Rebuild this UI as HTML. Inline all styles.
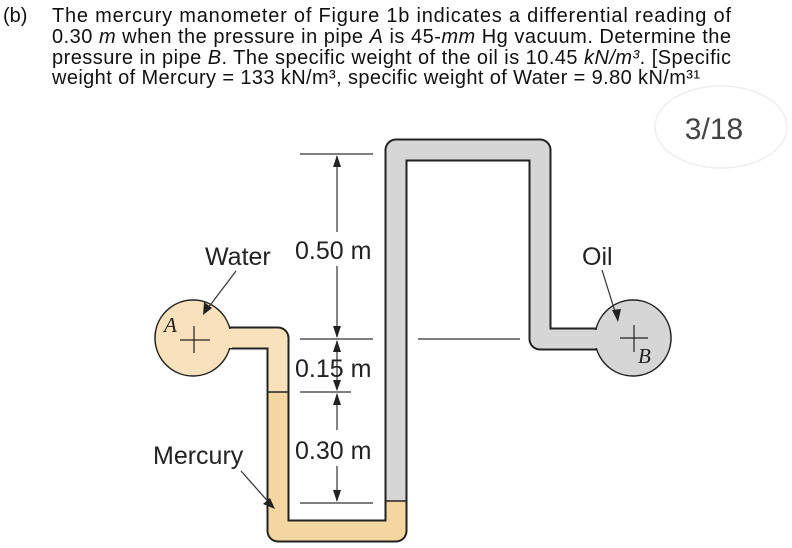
<!DOCTYPE html>
<html><head><meta charset="utf-8"><style>
html,body{margin:0;padding:0;background:#fff;}
svg{display:block;}
text{font-family:"Liberation Sans",Arial,sans-serif;}
</style></head><body>
<svg width="792" height="548" viewBox="0 0 792 548" xmlns="http://www.w3.org/2000/svg">
<g font-size="20" fill="#111">
<text x="3" y="22">(b)</text>
<text x="52" y="22" textLength="679" lengthAdjust="spacing">The mercury manometer of Figure 1b indicates a differential reading of</text>
<text x="52" y="43" textLength="679" lengthAdjust="spacing">0.30 <tspan font-style="italic">m</tspan> when the pressure in pipe <tspan font-style="italic">A</tspan> is 45-<tspan font-style="italic">mm</tspan> Hg vacuum. Determine the</text>
<text x="52" y="64" textLength="679" lengthAdjust="spacing">pressure in pipe <tspan font-style="italic">B</tspan>. The specific weight of the oil is 10.45 <tspan font-style="italic">kN/m³</tspan>. [Specific</text>
<text x="52" y="84" textLength="648" lengthAdjust="spacing">weight of Mercury = 133 kN/m³, specific weight of Water = 9.80 kN/m³¹</text>
</g>
<ellipse cx="721" cy="127" rx="66" ry="41" fill="#fff" stroke="#eee" stroke-width="1.5"/>
<text x="714" y="139" font-size="30" fill="#444" text-anchor="middle">3/18</text>

<path d="M193,338 L278,338 L278,531 L396,531 L396,150 L540,150 L540,339 L633,339" fill="none" stroke="#222" stroke-width="23" stroke-linejoin="round"/>
<path d="M193,338 L278,338 L278,392" fill="none" stroke="#f8e1bb" stroke-width="19" stroke-linejoin="round"/>
<path d="M278,392 L278,531 L396,531 L396,501" fill="none" stroke="#f4d6a0" stroke-width="19" stroke-linejoin="round"/>
<path d="M396,501 L396,150 L540,150 L540,339 L633,339" fill="none" stroke="#d6d6d6" stroke-width="19" stroke-linejoin="round"/>
<line x1="268" y1="392" x2="288" y2="392" stroke="#222" stroke-width="1.5"/>
<line x1="386" y1="501" x2="406" y2="501" stroke="#222" stroke-width="1.5"/>

<circle cx="193" cy="338" r="38" fill="#f8e1bb" stroke="#222" stroke-width="1.5"/>
<rect x="220" y="329" width="12" height="19" fill="#f8e1bb"/>
<circle cx="633" cy="338" r="38" fill="#d6d6d6" stroke="#222" stroke-width="1.5"/>
<rect x="592" y="330" width="12" height="18" fill="#d6d6d6"/>

<g stroke="#222" stroke-width="1.2">
<line x1="180" y1="340" x2="210" y2="340"/><line x1="194" y1="326" x2="194" y2="353"/>
<line x1="620" y1="338" x2="648" y2="338"/><line x1="634" y1="325" x2="634" y2="352"/>
</g>
<text x="164" y="332" font-style="italic" font-size="21" fill="#222" style="font-family:'Liberation Serif',serif">A</text>
<text x="638" y="363" font-style="italic" font-size="21" fill="#222" style="font-family:'Liberation Serif',serif">B</text>

<g stroke="#333" stroke-width="1.2">
<line x1="300" y1="154" x2="373" y2="154"/>
<line x1="300" y1="339" x2="373" y2="339"/>
<line x1="418" y1="339" x2="520" y2="339"/>
<line x1="300" y1="392" x2="351" y2="392"/>
<line x1="300" y1="503" x2="373" y2="503"/>
<line x1="337" y1="156" x2="337" y2="232"/>
<line x1="337" y1="266" x2="337" y2="337"/>
<line x1="337" y1="341" x2="337" y2="390"/>
<line x1="337" y1="394" x2="337" y2="430"/>
<line x1="337" y1="466" x2="337" y2="501"/>
<line x1="236" y1="271" x2="205" y2="312"/>
<line x1="241" y1="471" x2="272" y2="506"/>
<line x1="602" y1="270" x2="617" y2="318"/>
</g>
<g fill="#222">
<polygon points="337,155 333,167 341,167"/>
<polygon points="337,338 333,326 341,326"/>
<polygon points="337,340 333,352 341,352"/>
<polygon points="337,391 333,380 341,380"/>
<polygon points="337,393 333,405 341,405"/>
<polygon points="337,502 333,490 341,490"/>
<polygon points="203,315 204,302 212,308"/>
<polygon points="275,509 263,504 270,498"/>
<polygon points="618,322 612,310 621,309"/>
</g>
<g font-size="25" fill="#222">
<text x="295" y="259">0.50 m</text>
<text x="295" y="377">0.15 m</text>
<text x="295" y="459">0.30 m</text>
<text x="205" y="265">Water</text>
<text x="153" y="464">Mercury</text>
<text x="582" y="265">Oil</text>
</g>
</svg>
</body></html>
